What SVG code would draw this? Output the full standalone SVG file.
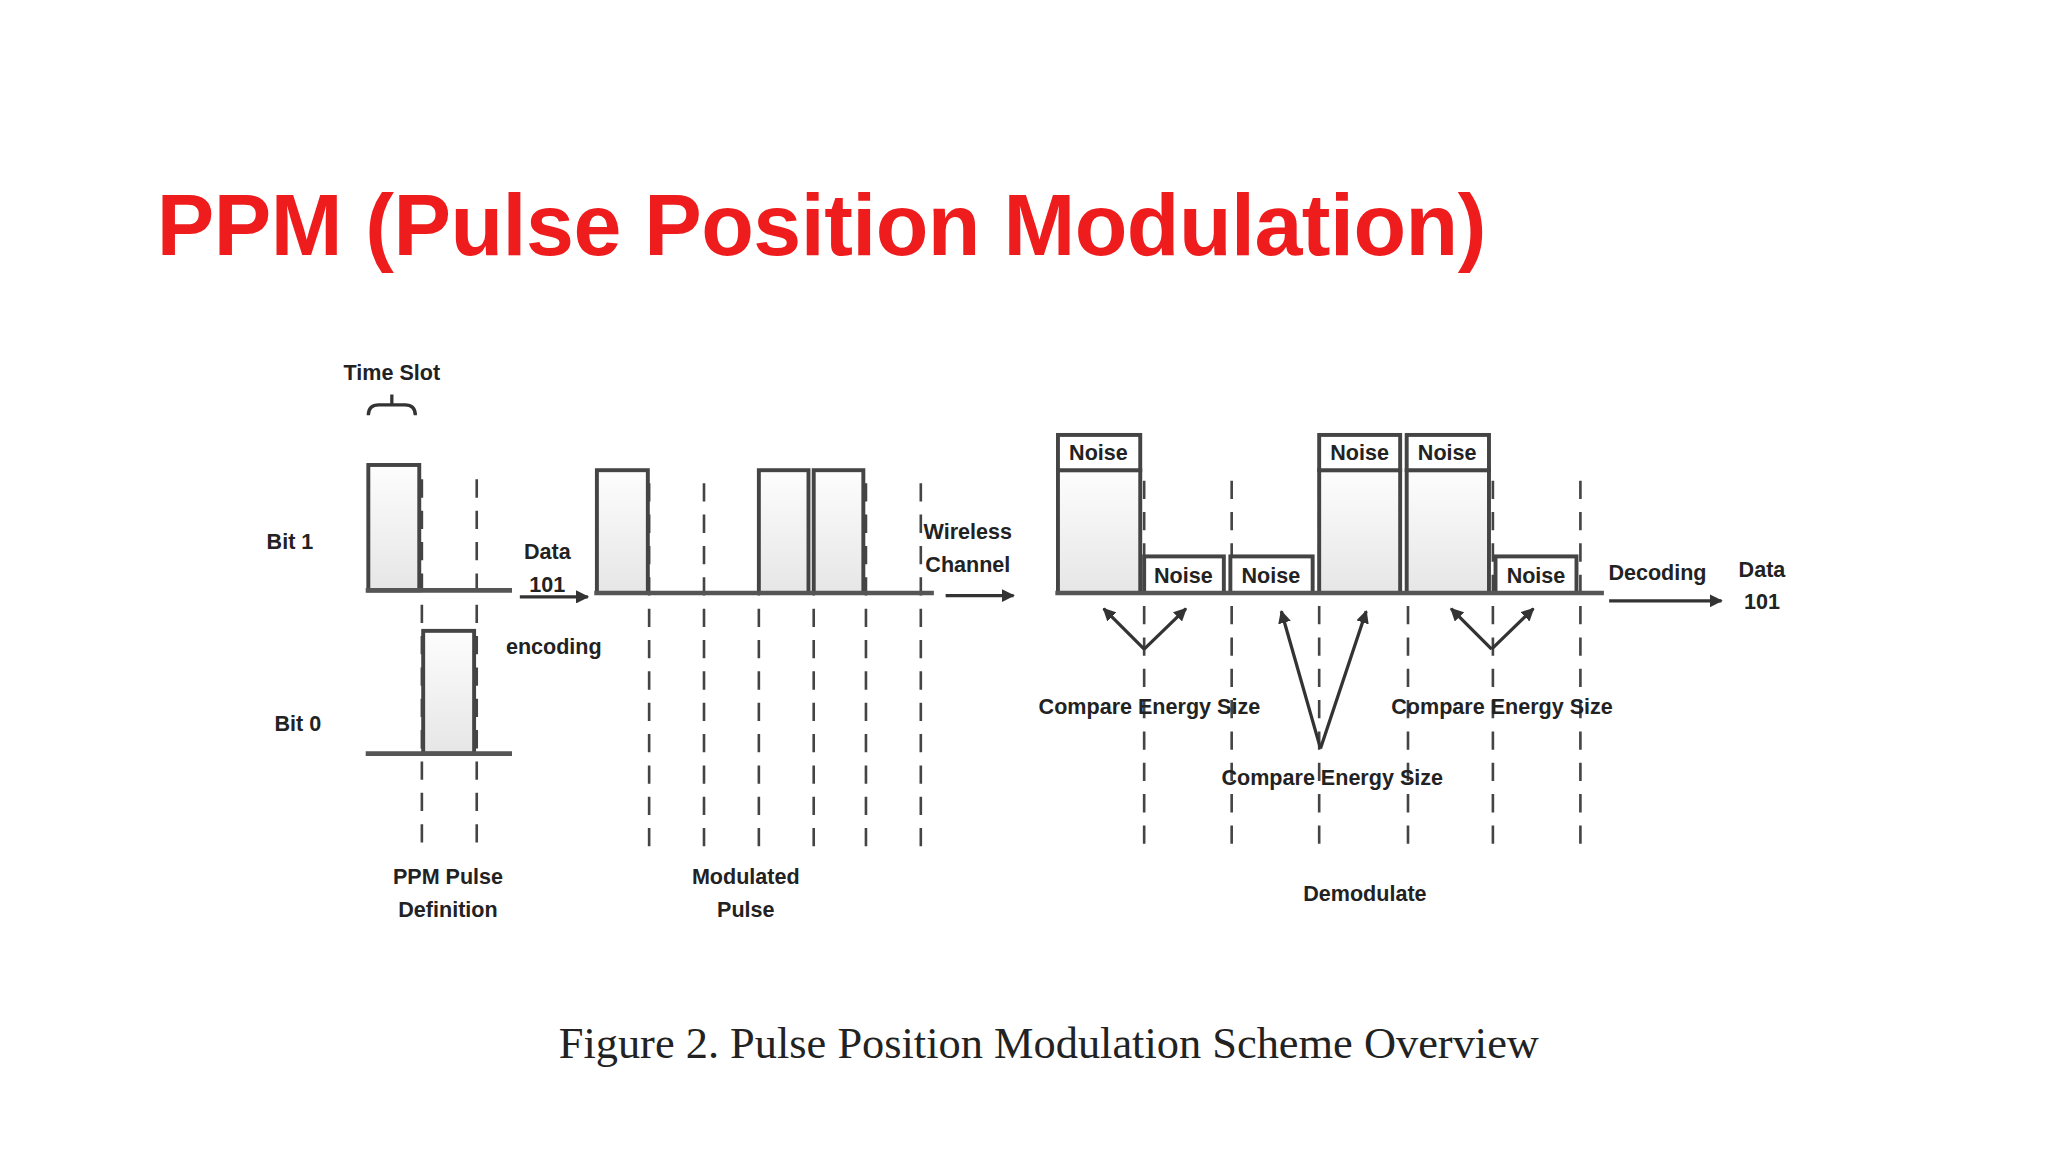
<svg xmlns="http://www.w3.org/2000/svg" width="2048" height="1152" viewBox="0 0 2048 1152">
<defs>
<marker id="ah" viewBox="0 0 10 10" refX="9" refY="5" markerWidth="4" markerHeight="4" orient="auto-start-reverse"><path d="M0,0 L10,5 L0,10 z" fill="#333"/></marker>
<linearGradient id="g" x1="0" y1="0" x2="0" y2="1"><stop offset="0" stop-color="#fdfdfd"/><stop offset="1" stop-color="#e6e6e6"/></linearGradient>
</defs>
<style>
.t{font-family:"Liberation Sans",Arial,sans-serif;font-weight:bold;font-size:16.5px;fill:#222;text-anchor:middle}
.p{fill:url(#g);stroke:#444;stroke-width:3}
.n{fill:#fff;stroke:#444;stroke-width:3}
.b{stroke:#555;stroke-width:3.5;fill:none}
.d{stroke:#444;stroke-width:2;stroke-dasharray:14,10;fill:none}
.a{stroke:#333;stroke-width:2.5;fill:none;marker-end:url(#ah)}
</style>
<rect width="2048" height="1152" fill="#fff"/>
<g transform="scale(1.30612)">
<text x="120" y="195" font-family="Liberation Sans,Arial,sans-serif" font-weight="bold" font-size="66" fill="#ee1c1c" textLength="1018">PPM (Pulse Position Modulation)</text>

<g id="connectors">
<path class="d" d="M323 367V650M365 367V650M497 370V652M539 370V652M581 370V652M623 370V652M663 370V652M705 370V652M876 368V652M943 368V652M1010 368V652M1078 368V652M1143 368V652M1210 368V652"/>
<path class="a" d="M398 457H450"/>
<path class="a" d="M724 456H776"/>
<path class="a" d="M1232 460H1318"/>
<path class="a" d="M876 497L845 466"/><path class="a" d="M876 497L908 466"/>
<path class="a" d="M1011 573L981 468"/><path class="a" d="M1011 573L1046 468"/>
<path class="a" d="M1142 497L1111 466"/><path class="a" d="M1142 497L1174 466"/>
<path d="M282 318q0-8 8-8h20q8 0 8 8M300 310v-8" stroke="#333" stroke-width="2.5" fill="none"/>
</g>

<g id="ppm-def">
<text class="t" x="300" y="291">Time Slot</text>
<text class="t" x="222" y="420">Bit 1</text>
<text class="t" x="228" y="560">Bit 0</text>
<rect class="p" x="282" y="356" width="39" height="96"/>
<path class="b" d="M280 452H392"/>
<rect class="p" x="324" y="483" width="39" height="94"/>
<path class="b" d="M280 577H392"/>
<text class="t" x="343" y="677">PPM Pulse</text>
<text class="t" x="343" y="702">Definition</text>
</g>

<g id="encoding">
<text class="t" x="419" y="428">Data</text>
<text class="t" x="419" y="453">101</text>
<text class="t" x="424" y="501">encoding</text>
</g>

<g id="modulated">
<rect class="p" x="457" y="360" width="39" height="94"/>
<rect class="p" x="581" y="360" width="38" height="94"/>
<rect class="p" x="623" y="360" width="38" height="94"/>
<path class="b" d="M455 454H715"/>
<text class="t" x="571" y="677">Modulated</text>
<text class="t" x="571" y="702">Pulse</text>
<text class="t" x="741" y="413">Wireless</text>
<text class="t" x="741" y="438">Channel</text>
</g>

<g id="demod">
<rect class="p" x="810" y="360" width="63" height="94"/><rect class="n" x="810" y="333" width="63" height="27"/>
<rect class="p" x="1010" y="360" width="62" height="94"/><rect class="n" x="1010" y="333" width="62" height="27"/>
<rect class="p" x="1077" y="360" width="63" height="94"/><rect class="n" x="1077" y="333" width="63" height="27"/>
<rect class="n" x="876" y="426" width="61" height="28"/>
<rect class="n" x="942" y="426" width="63" height="28"/>
<rect class="n" x="1145" y="426" width="62" height="28"/>
<path class="b" d="M808 454H1228"/>
<text class="t" x="841" y="352">Noise</text>
<text class="t" x="1041" y="352">Noise</text>
<text class="t" x="1108" y="352">Noise</text>
<text class="t" x="906" y="446">Noise</text>
<text class="t" x="973" y="446">Noise</text>
<text class="t" x="1176" y="446">Noise</text>
<text class="t" x="880" y="547">Compare Energy Size</text>
<text class="t" x="1020" y="601">Compare Energy Size</text>
<text class="t" x="1150" y="547">Compare Energy Size</text>
<text class="t" x="1045" y="690">Demodulate</text>
<text class="t" x="1269" y="444">Decoding</text>
<text class="t" x="1349" y="442">Data</text>
<text class="t" x="1349" y="466">101</text>
</g>

<text x="803" y="810" font-family="Liberation Serif,Times New Roman,serif" font-size="34" fill="#222" text-anchor="middle">Figure 2. Pulse Position Modulation Scheme Overview</text>
</g>
</svg>
